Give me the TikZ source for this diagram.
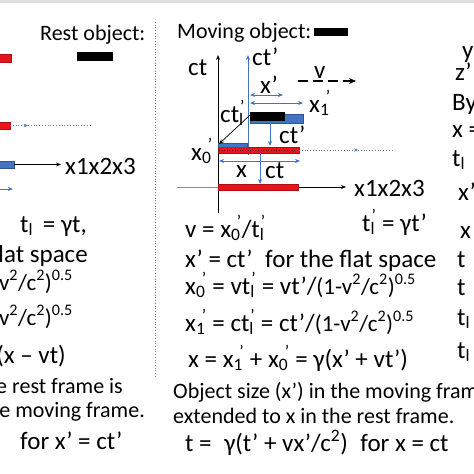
\documentclass[tikz,border=0pt]{standalone}
\usepackage{fontspec}
\setmainfont{Carlito}
\usetikzlibrary{arrows.meta}
\definecolor{barred}{HTML}{E8141B}
\definecolor{barblue}{HTML}{4472C4}
\definecolor{axisgray}{HTML}{8C8C8C}
\newcommand{\sbp}[1]{\textsubscript{#1}\kern-0.14em\textsuperscript{’}}
\newcommand{\sq}{\textsuperscript{2}}
\newcommand{\lfac}{{\fontsize{23}{26}\selectfont(1-v\sq/c\sq)\textsuperscript{0.5}}}

\begin{document}
\begin{tikzpicture}[x=1pt,y=-1pt, every node/.style={font=\fontsize{25}{28}\selectfont,inner sep=0pt},
 txt/.style={anchor=base west},
 rtxt/.style={anchor=base east},
 note/.style={anchor=base west,font=\fontsize{22}{25}\selectfont},
 rnote/.style={anchor=base east,font=\fontsize{22}{25}\selectfont},
 redbar/.style={fill=barred,draw=barred!75!black,line width=0.4pt},
 bluebar/.style={fill=barblue,draw=barblue!75!black,line width=0.4pt},
 blackbar/.style={fill=black},
 arr/.style={-{Stealth[length=5pt,width=4pt]},line width=0.7pt},
 barr/.style={arr,draw=barblue},
 dbl/.style={{Stealth[length=5pt,width=4pt]}-{Stealth[length=5pt,width=4pt]},line width=0.7pt,draw=barblue},
 dots/.style={dotted,line width=0.8pt,draw=barblue!70!gray}]
\useasboundingbox (0,0) rectangle (474,474);
\clip (0,0) rectangle (474,474);
\fill[gray!25] (0,0) rectangle (474,3);

% left panel (rest frame)
\draw[dotted,line width=0.7pt,draw=gray] (155,22) -- (155,378);
\node[note] (restlbl) at (40,40) {Rest object:};
\fill[blackbar] (77,52) rectangle (113,61);
\fill[redbar] (-5,54) rectangle (11,62);
\fill[redbar] (-5,122) rectangle (10,129);
\coordinate (l1a) at (10,125.5); \coordinate (l1b) at (28,125.5); \coordinate (l1c) at (90,125.5);
\draw[dots,-{Stealth[length=4pt,width=3.5pt]}] (l1a) -- (l1b);
\draw[dots,draw=gray] (l1b) -- (l1c);
\fill[bluebar] (-5,161) rectangle (14,168);
\node[txt] (laxis) at (65,174) {x1x2x3};
\coordinate (l2a) at (14,164.5);
\draw[arr] (l2a) -- ([xshift=-4pt]laxis.west |- l2a);
\coordinate (l3a) at (-5,189); \coordinate (l3b) at (13,189);
\draw[barr] (l3a) -- (l3b);
\node[txt] (ltl) at (20,232) {t\textsubscript{l}\, = γt,};
\node[rtxt] (lflat) at (88,262) {flat space};
\node[rtxt] (lx0) at (73,290) {/\lfac};
\node[rtxt] (lx1) at (73,325) {/\lfac};
\node[rtxt] (lx) at (66,363) {γ(x – vt)};
\node[rnote] (lrest) at (123,393) {the rest frame is};
\node[rnote] (lmov) at (145,417) {the moving frame.};
\node[txt] (lt) at (20,449) {for x’ = ct’};

% middle panel (moving frame)
\node[note] (movlbl) at (177,38) {Moving object:};
\fill[blackbar] (314,28) rectangle (348,36);
\coordinate (ct0) at (218,213); \coordinate (ct1) at (218,55);
\draw[arr] (ct0) -- (ct1);
\node[txt] (ctlbl) at (188,75) {ct};
\coordinate (cp0) at (248,155); \coordinate (cp1) at (248,55);
\draw[barr] (cp0) -- (cp1);
\node[txt] (cplbl) at (252,65) {ct’};
\coordinate (xa0) at (177,187); \coordinate (xa1) at (298,187);
\draw[axisgray,line width=0.8pt] (xa0) -- (xa1);
\node[txt] (maxis) at (354,196) {x1x2x3};
\draw[arr] (xa1) -- ([xshift=-8pt]maxis.west |- xa1);
\fill[redbar] (218,184) rectangle (298,190);
\fill[redbar] (218,147) rectangle (299,153);
\draw[dotted,line width=0.6pt,draw=barred!40!black] (219,150) -- (298,150);
\fill[bluebar] (218,143) rectangle (247,147);
\coordinate (m1a) at (299,150); \coordinate (m1b) at (358,150); \coordinate (m1c) at (392,150);
\draw[dots,-{Stealth[length=4pt,width=3.5pt]}] (m1a) -- (m1b);
\draw[dots,draw=gray] (m1b) -- (m1c);
\fill[bluebar] (250,114) rectangle (303,123);
\fill[blackbar] (250,112) rectangle (285,121);
% sizes in the moving frame
\coordinate (xp0) at (250,95); \coordinate (xp1) at (283,95);
\draw[dbl] (xp0) -- (xp1);
\node[txt] (xplbl) at (260,93) {x’};
\coordinate (x10) at (250,103); \coordinate (x11) at (303,103);
\draw[dbl] (x10) -- (x11);
\node[txt] (x1lbl) at (309,112) {x\sbp{1}};
\node[txt] (ctllbl) at (220,122) {ct\sbp{l}};
\coordinate (tl0) at (250,115); \coordinate (tl1) at (219,144);
\draw[arr] (tl0) -- (tl1);
\node[txt] (x0lbl) at (191,160) {x\sbp{0}};
\coordinate (cd0) at (270,123); \coordinate (cd1) at (270,146);
\draw[barr] (cd0) -- (cd1);
\node[txt] (cdlbl) at (279,143) {ct’};
% sizes in the rest frame
\coordinate (xr0) at (219,161); \coordinate (xr1) at (300,161);
\draw[dbl] (xr0) -- (xr1);
\node[txt] (xrlbl) at (236,177) {x};
\coordinate (cr0) at (260,153); \coordinate (cr1) at (260,184);
\draw[barr] (cr0) -- (cr1);
\node[txt] (crlbl) at (265,178) {ct};
\coordinate (v0) at (298,81); \coordinate (v1) at (356,81);
\draw[-{Stealth[length=7pt,width=6pt]},line width=1.3pt,dash pattern=on 10pt off 5pt] (v0) -- (v1);
\node[txt] (vlbl) at (314,78) {v};

% equations
\node[txt] (eq1) at (185,237) {v = x\sbp{0}/t\sbp{l}};
\node[txt] (eq2) at (362,231) {t\sbp{l} = γt’};
\node[txt] (eq3) at (185,267) {x’ = ct’\enspace for the flat space};
\node[txt] (eq4) at (185,294) {x\sbp{0} = vt\sbp{l} = vt’/\lfac};
\node[txt] (eq5) at (185,331) {x\sbp{1} = ct\sbp{l} = ct’/\lfac};
\node[txt] (eq6) at (188,367) {x = x\sbp{1} + x\sbp{0} = γ(x’ + vt’)};
\node[note] (obj1) at (173,398) {Object size (x’) in the moving frame};
\node[note] (obj2) at (173,423) {extended to x in the rest frame.};
\node[txt] (eq7) at (185,451) {t =\; γ(t’ + vx’/c\sq)\enspace for x = ct};

% right panel
\node[txt] (ry) at (462,58) {y’};
\node[txt] (rz) at (455,80) {z’};
\node[txt] (rby) at (452,110) {By};
\node[txt] (rx) at (452,137) {x =};
\node[txt] (rtl) at (452,166) {t\textsubscript{l}};
\node[txt] (rxp) at (458,200) {x’};
\node[txt] (rxx) at (460,238) {x};
\node[txt] (rt1) at (457,267) {t};
\node[txt] (rt2) at (457,295) {t};
\node[txt] (rt3) at (457,325) {t\textsubscript{l}};
\node[txt] (rt4) at (457,358) {t\textsubscript{l}};
\end{tikzpicture}
\end{document}
